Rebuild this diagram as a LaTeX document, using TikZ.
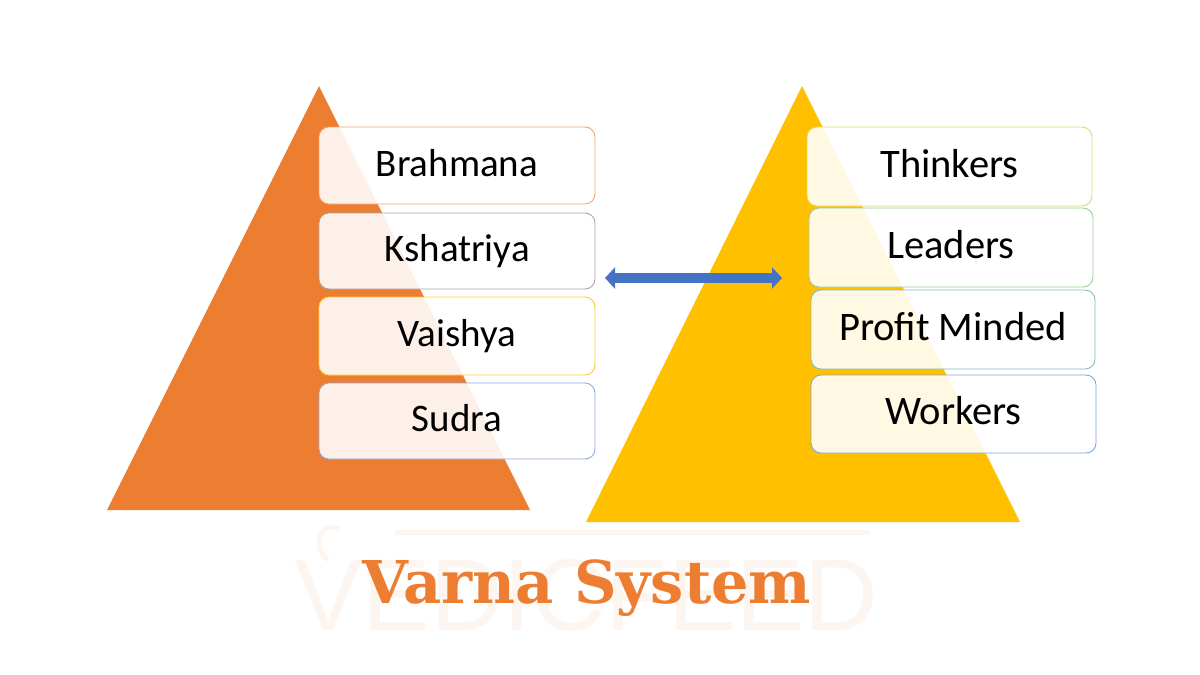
\documentclass[tikz,border=0pt]{standalone}
\usepackage{fontspec}
\setmainfont{Carlito}
\newfontfamily\titlefont{DejaVu Serif}
\newfontfamily\markfont{Liberation Sans}
\usetikzlibrary{positioning,arrows.meta}
\definecolor{varnaorange}{HTML}{ED7D31}
\definecolor{varnayellow}{HTML}{FFC000}
\definecolor{varnablue}{HTML}{4472C4}
\definecolor{markcolor}{HTML}{FDF5F0}

\begin{document}
\begin{tikzpicture}[x=1pt, y=-1pt]
% STYLES
\tikzset{%
    varna/.style={%
rectangle,
rounded corners=10pt,
fill=white,
fill opacity=0.89,
text opacity=1,
line width=0.9pt,
outer sep=0pt,
inner sep=0pt,
text=black,
font=\fontsize{39}{44}\selectfont,
text height=26pt,
text depth=5pt,
align=center
                          },
    role/.style={%
varna,
font=\fontsize{40.5}{44}\selectfont
                          }
             }
\useasboundingbox (0,0) rectangle (1200,675);

% Draw watermark
\draw[markcolor, line width=5pt] (395,532) -- (870,532);
\draw[markcolor, line width=5pt] (340,530) .. controls (322,518) and (310,545) .. (328,560);
\node[text=markcolor, font=\markfont\fontsize{102}{104}\selectfont, inner sep=0pt] (watermark) at (586,595) {VEDICFEED};

% Draw triangles
\fill[varnaorange] (319,86) -- (530,510) -- (107,510) -- cycle;
\fill[varnayellow] (802,86) -- (1020,522) -- (586,522) -- cycle;

% Draw left boxes
\node[varna, draw=varnaorange!70!white, minimum width=276pt, minimum height=77pt] (brahmana) at (457,165.5) {Brahmana};
\node[varna, draw=black!35, minimum width=276pt, minimum height=76pt, below=9pt of brahmana] (kshatriya) {Kshatriya};
\node[varna, draw=varnayellow!80!white, minimum width=276pt, minimum height=78pt, below=8pt of kshatriya] (vaishya) {Vaishya};
\node[varna, draw=varnablue!60!white, minimum width=276pt, minimum height=76pt, below=8pt of vaishya] (sudra) {Sudra};

% Draw right boxes
\node[role, draw=yellow!80!black!70!white, minimum width=285pt, minimum height=79pt] (thinkers) at (949.5,166.5) {Thinkers};
\node[role, draw=green!50!black!40!white, minimum width=284pt, minimum height=79pt, below=2pt of thinkers, xshift=1.5pt] (leaders) {Leaders};
\node[role, draw=teal!50!white, minimum width=284pt, minimum height=79pt, below=3pt of leaders, xshift=2pt] (profit) {Profit Minded};
\node[role, draw=blue!40!teal!50!white, minimum width=285pt, minimum height=78pt, below=6pt of profit, xshift=0.5pt] (workers) {Workers};

% Draw the link between triangles
\coordinate (linkleft) at (605,278);
\coordinate (linkright) at (782,278);
\draw[{Triangle[width=21pt,length=10pt]}-{Triangle[width=21pt,length=10pt]}, varnablue, line width=10pt] (linkleft) -- (linkright);

% Draw title
\node[text=varnaorange, font=\titlefont\bfseries\fontsize{59}{64}\selectfont, inner sep=0pt] (title) at (587,588) {Varna System};
\end{tikzpicture}
\end{document}
